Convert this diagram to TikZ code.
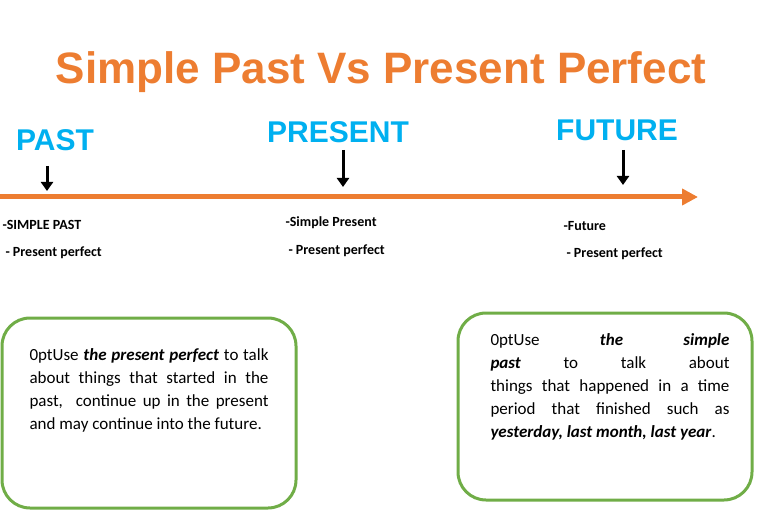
\documentclass[tikz,border=0pt]{standalone}
\usepackage{fontspec}
\setmainfont{Carlito}
\newfontfamily\headfont{Liberation Sans}
\usetikzlibrary{arrows.meta}
\definecolor{titleorange}{HTML}{ED7D31}
\definecolor{timeblue}{HTML}{00B0F0}
\definecolor{boxgreen}{HTML}{70AD47}
\tikzstyle{period} = [text=timeblue, font=\headfont\bfseries\fontsize{30}{32}\selectfont]
\tikzstyle{tense} = [anchor=west, font=\bfseries\fontsize{14}{16}\selectfont]
\tikzstyle{marker} = [line width=3pt,-{Triangle[length=9pt,width=12pt]}]
\tikzstyle{notebox} = [draw=boxgreen, line width=3pt, rounded corners=28pt]
\tikzstyle{note} = [text width=239pt, align=justify, font=\fontsize{17}{23}\selectfont\hyphenpenalty=10000]

\begin{document}
\begin{tikzpicture}[x=1pt,y=-1pt]
\useasboundingbox (0,0) rectangle (760,513);

\node (title) at (381,72) [text=titleorange, font=\headfont\bfseries\fontsize{44}{48}\selectfont] {Simple Past Vs Present Perfect};

\node (past) at (55,140) [period] {PAST};
\node (present) at (338,132) [period] {PRESENT};
\node (future) at (617,130) [period] {FUTURE};

\coordinate (lineA) at (0,197);
\coordinate (lineB) at (698,197);
\draw [titleorange, line width=5pt, -{Triangle[length=16pt,width=16pt]}] (lineA) -- (lineB);

\coordinate (pastT) at (47,166);
\coordinate (pastB) at (47,191);
\coordinate (presT) at (343,150);
\coordinate (presB) at (343,187);
\coordinate (futT) at (623,150);
\coordinate (futB) at (623,185);
\draw [marker] (pastT) -- (pastB);
\draw [marker] (presT) -- (presB);
\draw [marker] (futT) -- (futB);

\node (sp) at (-1,225) [tense] {-SIMPLE PAST};
\node (pp1) at (2,253) [tense] {- Present perfect};
\node (spres) at (282,223) [tense] {-Simple Present};
\node (pp2) at (285,251) [tense] {- Present perfect};
\node (fut) at (560,226) [tense] {-Future};
\node (pp3) at (563,254) [tense] {- Present perfect};

\draw [notebox] (2,318) rectangle (296,508);
\draw [notebox] (458,313) rectangle (752,500);

\node (leftnote) at (149,390) [note] {Use \textbf{\textit{the present perfect}} to talk\linebreak about things that started in the\linebreak past,\ \ continue up in the present\linebreak and may continue into the future.};
\node (rightnote) at (610,387) [note] {Use \textbf{\textit{the simple past}} to talk about\linebreak things that happened in a time\linebreak period that finished such as\linebreak \textbf{\textit{yesterday, last month, last year}}.};

\end{tikzpicture}
\end{document}
